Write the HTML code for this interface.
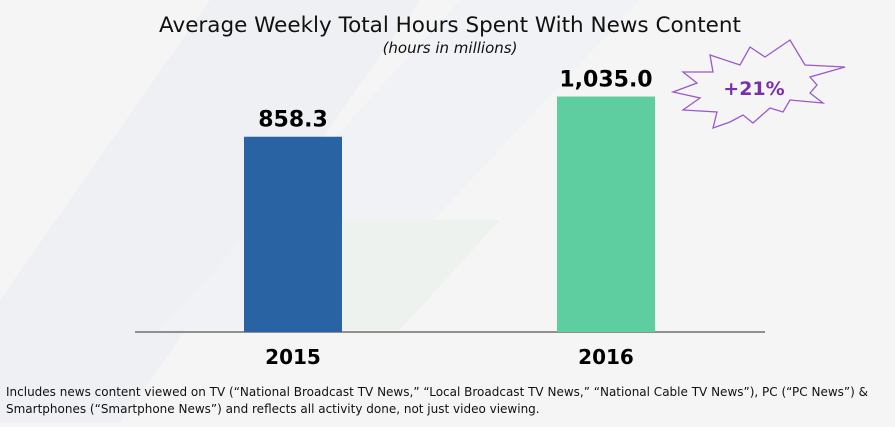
<!DOCTYPE html>
<html><head><meta charset="utf-8"><style>
body{margin:0;width:895px;height:423px;overflow:hidden;background:#f5f5f6;font-family:"DejaVu Sans","Liberation Sans",sans-serif}
</style></head><body>
<svg width="895" height="423" xmlns="http://www.w3.org/2000/svg">
<polygon points="210,0 420,0 120,423 0,423 0,300" fill="#eef0f3"/>
<polygon points="460,0 640,0 330,330 160,330" fill="#f0f2f5"/>
<polygon points="340,220 500,220 400,330 250,330" fill="#eef2ef"/>
<text x="450" y="32" text-anchor="middle" font-size="21.5" fill="#111">Average Weekly Total Hours Spent With News Content</text>
<text x="450" y="53" text-anchor="middle" font-size="15" font-style="italic" fill="#111">(hours in millions)</text>
<line x1="135" y1="332" x2="765" y2="332" stroke="#555" stroke-width="1.2"/>
<g id="bars"></g>
<polygon points="710,55 740,65 750,47 765,57 790,40 805,65 845,67 810,77 817,85 810,93 823,103 790,100 783,112 770,108 753,123 743,115 730,122 713,128 717,112 683,110 700,98 673,92 697,83 683,72 713,72" fill="none" stroke="#9b59c9" stroke-width="1.3"/>
<text x="754" y="95" text-anchor="middle" font-size="19" font-weight="bold" fill="#7b2fa8">+21%</text>
<text x="6" y="396" font-size="12" fill="#111" textLength="862">Includes news content viewed on TV (“National Broadcast TV News,” “Local Broadcast TV News,” “National Cable TV News”), PC (“PC News”) &amp;</text>
<text x="6" y="413" font-size="12" fill="#111">Smartphones (“Smartphone News”) and reflects all activity done, not just video viewing.</text>
</svg>
<script>
const categories=["2015","2016"];
const values=[858.3,1035.0];
const valueLabels=["858.3","1,035.0"];
const colors=["#2a63a3","#5ecda0"];
const base=332, scale=0.2275;
const xs=c=>[244,557][categories.indexOf(c)];
const y=v=>base-v*scale;
const g=document.getElementById('bars');
const NS="http://www.w3.org/2000/svg";
categories.forEach((c,i)=>{
 const r=document.createElementNS(NS,'rect');
 r.setAttribute('x',xs(c));r.setAttribute('y',y(values[i]));
 r.setAttribute('width',98);r.setAttribute('height',base-y(values[i]));
 r.setAttribute('fill',colors[i]);
 
 
 g.appendChild(r);
 const t=document.createElementNS(NS,'text');
 t.setAttribute('x',xs(c)+49);t.setAttribute('y',y(values[i])-10);
 t.setAttribute('text-anchor','middle');t.setAttribute('font-size','22');t.setAttribute('font-weight','bold');
 t.textContent=valueLabels[i];
 
 
 g.appendChild(t);
 const l=document.createElementNS(NS,'text');
 l.setAttribute('x',xs(c)+49);l.setAttribute('y',364);
 l.setAttribute('text-anchor','middle');l.setAttribute('font-size','20');l.setAttribute('font-weight','bold');
 l.textContent=c;
 
 
 g.appendChild(l);
});
</script>
</body></html>
